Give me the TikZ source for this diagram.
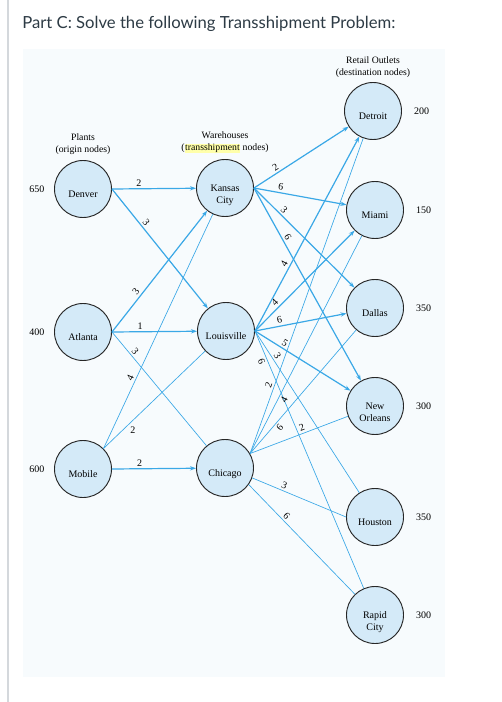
\documentclass[tikz,border=0pt]{standalone}
\usepackage{fontspec}
\setmainfont{Liberation Serif}
\newfontfamily\titlefont{Lato}
\usepackage{xcolor}
\usetikzlibrary{arrows.meta, positioning}
\definecolor{flow}{RGB}{58,168,230}
\definecolor{nodefill}{RGB}{212,234,248}
\definecolor{panel}{RGB}{247,251,253}
\definecolor{rulegrey}{RGB}{212,216,220}
\definecolor{marker}{RGB}{255,255,170}
\definecolor{heading}{RGB}{45,59,69}
\newcommand{\hlword}[1]{{\setlength{\fboxsep}{0.4pt}\colorbox{marker}{#1}}}

\begin{document}
\begin{tikzpicture}[
  x=0.75pt, y=-0.75pt,
  site/.style={circle, draw=black!85, line width=0.7pt, fill=nodefill,
               minimum size=42.75pt, inner sep=0pt, align=center,
               font=\fontsize{7.5}{9}\selectfont, text height=13pt, text depth=0pt},
  two/.style={text height=23pt, text depth=0pt},
  head/.style={font=\fontsize{7.3}{9}\selectfont, align=center, inner sep=1pt},
  qty/.style={font=\fontsize{7.5}{9}\selectfont, inner sep=1pt},
  cost/.style={font=\fontsize{7.5}{9}\selectfont, inner sep=1.5pt, text=black},
  arr/.style={-{Stealth[length=4.5pt, width=3.2pt]}, flow, line width=0.9pt},
  thin/.style={flow, line width=0.5pt},
]
  \useasboundingbox (0,0) rectangle (502,702);
  \fill[panel] (23,49) rectangle (445,677);
  \draw[rulegrey, line width=1.2pt] (8,0) -- (8,702);
  \node[anchor=base west, inner sep=0pt, text=heading,
        font=\titlefont\fontsize{12.5}{15}\selectfont] (title) at (22,29)
        {Part C: Solve the following Transshipment Problem:};

  % plants
  \node[site] (den) at (83,189) {Denver};
  \node[site] (atl) at (83,332) {Atlanta};
  \node[site] (mob) at (83,469) {Mobile};
  % warehouses
  \node[site, two] (kc) at (225,188) {Kansas\\City};
  \node[site] (lou) at (226,331) {Louisville};
  \node[site] (chi) at (225,468) {Chicago};
  % retail outlets
  \node[site] (det) at (373,111) {Detroit};
  \node[site] (mia) at (375,210) {Miami};
  \node[site] (dal) at (375,308) {Dallas};
  \node[site, two] (nor) at (375,406) {New\\Orleans};
  \node[site] (hou) at (375,517) {Houston};
  \node[site, two] (rap) at (375,615) {Rapid\\City};

  \node[head, above=3pt of den] (hplant) {Plants\\(origin nodes)};
  \node[head, above=3pt of kc] (hware) {Warehouses\\(\hlword{transshipment} nodes)};
  \node[head, above=2pt of det] (hretail) {Retail Outlets\\(destination nodes)};

  \node[qty, left=6pt of den] (sden) {650};
  \node[qty, left=6pt of atl] (satl) {400};
  \node[qty, left=6pt of mob] (smob) {600};
  \node[qty, right=8pt of det] (ddet) {200};
  \node[qty, right=8pt of mia] (dmia) {150};
  \node[qty, right=8pt of dal] (ddal) {350};
  \node[qty, right=8pt of nor] (dnor) {300};
  \node[qty, right=8pt of hou] (dhou) {350};
  \node[qty, right=8pt of rap] (drap) {300};

  % plants to warehouses
  \draw[arr] (den.east) -- node[cost, pos=.32, above] {2} (kc);
  \draw[arr] (den.east) -- node[cost, pos=.31, above, sloped] {3} (lou);
  \draw[arr] (atl.east) -- node[cost, pos=.3, above, sloped] {3} (kc);
  \draw[arr] (atl.east) -- node[cost, pos=.33, above] {1} (lou);
  \draw[thin] (atl.east) -- node[cost, pos=.2, above, sloped] {3} (chi);
  \draw[thin] (mob.45) -- node[cost, pos=.29, above, sloped] {4} (kc);
  \draw[thin] (mob.45) -- node[cost, pos=.29, below=3pt] {2} (lou);
  \draw[arr] (mob.east) -- node[cost, pos=.33, above] {2} (chi);

  % warehouses to retail outlets
  \draw[arr] (kc.east) -- node[cost, pos=.26, above, sloped] {2} (det);
  \draw[arr] (kc.east) -- node[cost, pos=.28, above, sloped] {6} (mia);
  \draw[arr] (kc.east) -- node[cost, pos=.26, above, sloped] {3} (dal);
  \draw[arr] (kc.east) -- node[cost, pos=.27, above, sloped] {6} (nor);
  \draw[arr] (lou.east) -- node[cost, pos=.33, above, sloped] {4} (det);
  \draw[arr] (lou.east) -- node[cost, pos=.24, above, sloped] {4} (mia);
  \draw[arr] (lou.east) -- node[cost, pos=.28, above, sloped] {6} (dal);
  \draw[arr] (lou.east) -- node[cost, pos=.28, above, sloped] {5} (nor);
  \draw[thin] (lou.east) -- node[cost, pos=.17, above, sloped] {3} (hou);
  \draw[thin] (lou.east) -- node[cost, pos=.11, below, sloped] {6} (rap);
  \draw[thin] (chi.30) -- node[cost, pos=.21, above, sloped] {2} (det);
  \draw[thin] (chi.30) -- node[cost, pos=.26, below, sloped] {4} (mia);
  \draw[thin] (chi.30) -- node[cost, pos=.24, below, sloped] {6} (dal);
  \draw[thin] (chi.30) -- node[cost, pos=.55, above, sloped] {2} (nor);
  \draw[thin] (chi.-20) -- node[cost, pos=.32, above, sloped] {3} (hou.west);
  \draw[thin] (chi.-35) -- node[cost, pos=.32, above, sloped] {6} (rap);
\end{tikzpicture}
\end{document}
